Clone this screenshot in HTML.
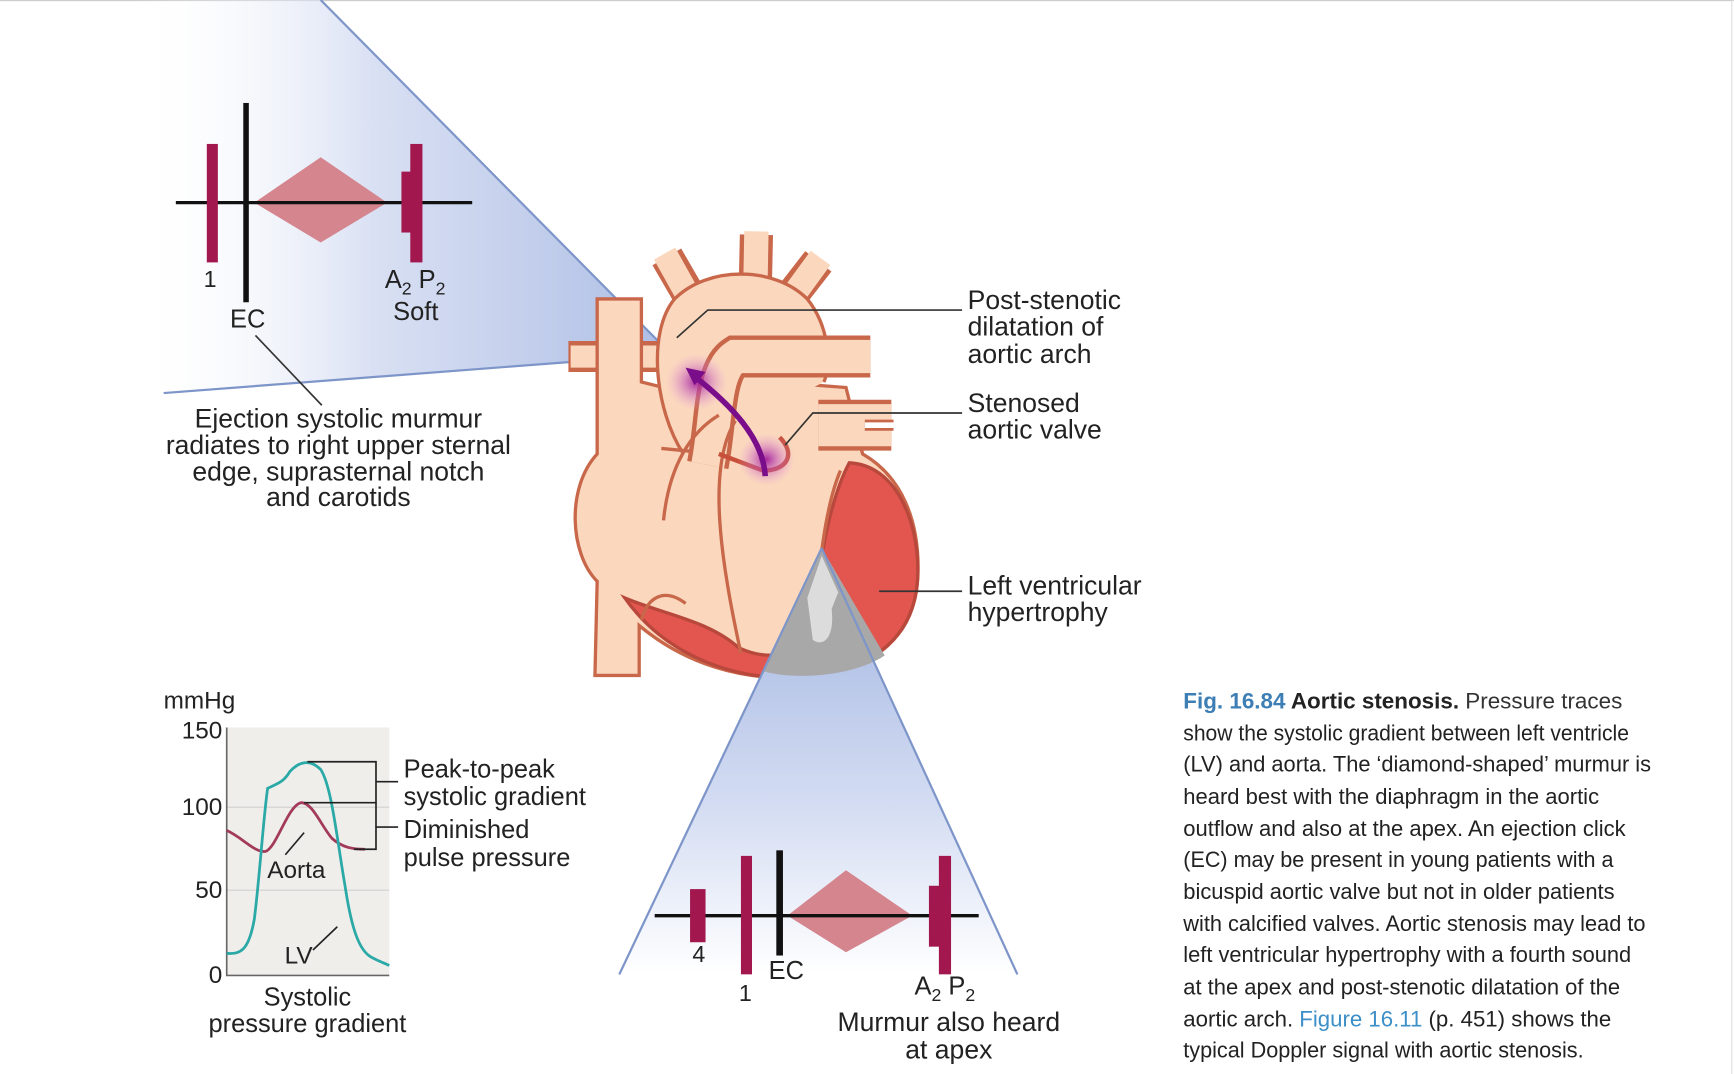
<!DOCTYPE html>
<html><head><meta charset="utf-8"><style>
html,body{margin:0;padding:0;background:#fff;}
svg{display:block;}
text{font-family:"Liberation Sans",sans-serif;fill:#222;}
</style></head><body>
<svg width="1734" height="1074" viewBox="0 0 1568 970" preserveAspectRatio="none" xmlns="http://www.w3.org/2000/svg">
<defs>
<linearGradient id="gTop" x1="607" y1="0" x2="120" y2="0" gradientUnits="userSpaceOnUse">
<stop offset="0" stop-color="#9fb2e0" stop-opacity="0.85"/><stop offset="0.55" stop-color="#cfd8f0" stop-opacity="0.8"/><stop offset="1" stop-color="#fff" stop-opacity="0"/></linearGradient>
<linearGradient id="gBot" x1="0" y1="495" x2="0" y2="880" gradientUnits="userSpaceOnUse">
<stop offset="0" stop-color="#9fb2e0"/><stop offset="0.6" stop-color="#d3dcf2"/><stop offset="1" stop-color="#fff"/></linearGradient>
<radialGradient id="glow"><stop offset="0" stop-color="#a0179a" stop-opacity="0.9"/><stop offset="1" stop-color="#e8a0e0" stop-opacity="0"/></radialGradient>
</defs>
<rect x="0" y="0" width="1568" height="970" fill="#fff"/>
<line x1="0" y1="0.5" x2="1568" y2="0.5" stroke="#ccc"/>
<line x1="1566" y1="0" x2="1566" y2="970" stroke="#ddd"/>

<!-- top cone -->
<polygon points="607,320 290,0 0,0 0,367 148,355" fill="url(#gTop)"/>
<line x1="607" y1="320" x2="290" y2="0" stroke="#7d95c8" stroke-width="2"/>
<line x1="607" y1="320" x2="148" y2="355" stroke="#7d95c8" stroke-width="2"/>

<!-- heart -->
<g stroke-linecap="butt" fill="none">
<path d="M514,322 L600,322" stroke="#c8674a" stroke-width="28"/>
<path d="M516,322 L600,322" stroke="#fbd8bd" stroke-width="20"/>
<path d="M625,270 L603,232 M683,260 L684,212 M712,272 L740,236" stroke="#c8674a" stroke-width="30"/>
<path d="M625,272 L601,229 M683,262 L684,209 M712,274 L742,233" stroke="#fbd8bd" stroke-width="22"/>
</g>
<!-- main body -->
<path d="M540,270 L580,270 L580,345 L640,360 L700,345 L765,350 L780,410 C815,430 832,470 830,520 C828,575 790,608 720,612 C670,614 620,600 578,565 L578,610 L538,610 L540,525 C515,500 512,440 540,410 Z" fill="#fbd8bd" stroke="#c8674a" stroke-width="3"/>
<!-- aortic arch -->
<path d="M618,410 C592,370 585,300 610,270 C640,240 700,240 730,270 C750,295 752,330 745,345" fill="#fbd8bd" stroke="#c8674a" stroke-width="3"/>
<path d="M598,405 L650,410" stroke="#c8674a" stroke-width="3"/>
<!-- red LV -->
<path d="M768,418 C810,420 830,470 830,515 C830,575 790,607 720,612 C660,614 600,590 565,540 C600,555 640,560 668,585 C700,600 730,590 735,555 C740,520 748,455 768,418 Z" fill="#e2564f" stroke="#b8483c" stroke-width="3"/>
<!-- pulmonary artery -->
<path d="M640,420 C648,380 645,335 665,322 L787,322" fill="none" stroke="#c8674a" stroke-width="38"/>
<path d="M640,420 C648,380 645,335 665,322 L787,322" fill="none" stroke="#fbd8bd" stroke-width="30"/>
<!-- pulm veins -->
<path d="M740,384 L806,384" stroke="#c8674a" stroke-width="46"/>
<path d="M740,384 L806,384" stroke="#fbd8bd" stroke-width="38"/>
<path d="M782,384 L808,384" stroke="#c8674a" stroke-width="10"/>
<path d="M782,384 L808,384" stroke="#fff" stroke-width="5"/>
<!-- septum curves -->
<path d="M600,470 C605,420 625,390 650,375 M620,545 C600,530 585,540 580,560 M665,380 C640,420 650,500 670,590 M760,425 C745,460 740,520 737,560" stroke="#c8674a" stroke-width="3" fill="none"/>
<path d="M705,395 C720,410 712,425 690,425 L650,410" stroke="#c8503a" stroke-width="4" fill="none"/>
<!-- glows & arrow -->
<ellipse cx="630" cy="345" rx="28" ry="26" fill="url(#glow)"/>
<ellipse cx="693" cy="415" rx="26" ry="24" fill="url(#glow)"/>
<path d="M692,430 C690,395 660,365 628,340" stroke="#7a0d8a" stroke-width="5" fill="none"/>
<polygon points="620,332 638,336 628,348" fill="#7a0d8a"/>
<!-- leaders -->
<polyline points="612,305 640,280 870,280" fill="none" stroke="#333" stroke-width="1.5"/>
<polyline points="710,402 735,373 870,373" fill="none" stroke="#333" stroke-width="1.5"/>
<line x1="795" y1="534" x2="870" y2="534" stroke="#333" stroke-width="1.5"/>

<!-- bottom cone -->
<polygon points="743,495 560,880 920,880" fill="url(#gBot)"/>
<path d="M743,495 L690,606 C715,614 770,612 800,592 Z" fill="#a8a8a8"/>
<path d="M743,502 L730,540 L735,578 C745,585 755,575 752,550 L758,535 Z" fill="#dcdcdc"/>
<line x1="743" y1="495" x2="560" y2="880" stroke="#7d95c8" stroke-width="2"/>
<line x1="743" y1="495" x2="920" y2="880" stroke="#7d95c8" stroke-width="2"/>

<!-- top phono -->
<polygon points="230,183 290,142 350,183 290,219" fill="#d4858e"/>
<line x1="159" y1="183" x2="427" y2="183" stroke="#111" stroke-width="3"/>
<rect x="187" y="130" width="10" height="107" fill="#a3174f"/>
<rect x="220" y="93" width="5" height="180" fill="#111"/>
<rect x="371" y="130" width="11" height="107" fill="#a3174f"/>
<rect x="363" y="155" width="10" height="55" fill="#a3174f"/>
<text x="190" y="259" font-size="21" text-anchor="middle">1</text>
<text x="224" y="296" font-size="23" text-anchor="middle">EC</text>
<text x="348" y="260" font-size="23">A<tspan font-size="16" dy="6">2</tspan><tspan dy="-6"> P</tspan><tspan font-size="16" dy="6">2</tspan></text>
<text x="376" y="289" font-size="23" text-anchor="middle">Soft</text>
<line x1="231" y1="303" x2="291" y2="366" stroke="#333" stroke-width="1.5"/>
<g font-size="24" text-anchor="middle">
<text x="306" y="386">Ejection systolic murmur</text>
<text x="306" y="410">radiates to right upper sternal</text>
<text x="306" y="434">edge, suprasternal notch</text>
<text x="306" y="457">and carotids</text>
</g>

<!-- right labels -->
<g font-size="24">
<text x="875" y="279">Post-stenotic</text>
<text x="875" y="303">dilatation of</text>
<text x="875" y="328">aortic arch</text>
<text x="875" y="372">Stenosed</text>
<text x="875" y="396">aortic valve</text>
<text x="875" y="537">Left ventricular</text>
<text x="875" y="561">hypertrophy</text>
</g>

<!-- bottom phono -->
<polygon points="712,827 765,786 825,827 765,860" fill="#d4858e"/>
<line x1="592" y1="827" x2="885" y2="827" stroke="#111" stroke-width="3"/>
<rect x="624" y="803" width="14" height="48" fill="#a3174f"/>
<rect x="670" y="773" width="10" height="107" fill="#a3174f"/>
<rect x="702" y="768" width="6" height="95" fill="#111"/>
<rect x="849" y="773" width="11" height="107" fill="#a3174f"/>
<rect x="840" y="800" width="12" height="55" fill="#a3174f"/>
<text x="632" y="869" font-size="21" text-anchor="middle">4</text>
<text x="674" y="904" font-size="21" text-anchor="middle">1</text>
<text x="711" y="884" font-size="23" text-anchor="middle">EC</text>
<text x="827" y="898" font-size="23">A<tspan font-size="16" dy="6">2</tspan><tspan dy="-6"> P</tspan><tspan font-size="16" dy="6">2</tspan></text>
<text x="858" y="931" font-size="24" text-anchor="middle">Murmur also heard</text>
<text x="858" y="956" font-size="24" text-anchor="middle">at apex</text>

<!-- graph -->
<rect x="205" y="657" width="147" height="223" fill="#efeeeb"/>
<line x1="205" y1="729" x2="352" y2="729" stroke="#d0d0d0"/>
<line x1="205" y1="804" x2="352" y2="804" stroke="#d0d0d0"/>
<polyline points="205,657 205,881 352,881" fill="none" stroke="#666" stroke-width="1.5"/>
<text x="148" y="640" font-size="22">mmHg</text>
<g font-size="22" text-anchor="end">
<text x="201" y="667">150</text><text x="201" y="736">100</text><text x="201" y="811">50</text><text x="201" y="888">0</text>
</g>
<path d="M205,750 C220,757 230,770 240,769 C250,766 260,728 272,725 C282,724 290,745 300,757 C310,766 320,767 330,767" fill="none" stroke="#a33a5a" stroke-width="2.5"/>
<path d="M205,861 C218,862 225,858 230,830 C235,790 238,740 242,712 C250,708 256,707 262,697 C270,688 280,685 290,695 C300,710 305,760 312,800 C318,840 325,858 335,864 C342,868 348,870 352,872" fill="none" stroke="#2aa9a6" stroke-width="2.5"/>
<g stroke="#222" stroke-width="1.5" fill="none">
<polyline points="278,688 340,688 340,725 275,725"/>
<polyline points="360,706 340,706"/>
<polyline points="320,767 340,767 340,747 360,747"/>
<line x1="340" y1="725" x2="340" y2="747"/>
<line x1="258" y1="772" x2="275" y2="752"/>
<line x1="283" y1="858" x2="305" y2="837"/>
</g>
<g font-size="23">
<text x="365" y="702">Peak-to-peak</text>
<text x="365" y="727">systolic gradient</text>
<text x="365" y="757">Diminished</text>
<text x="365" y="782">pulse pressure</text>
</g>
<text x="268" y="793" font-size="22" text-anchor="middle">Aorta</text>
<text x="270" y="870" font-size="22" text-anchor="middle">LV</text>
<text x="278" y="908" font-size="23" text-anchor="middle">Systolic</text>
<text x="278" y="932" font-size="23" text-anchor="middle">pressure gradient</text>

<!-- caption -->
<g font-size="20" fill="#333">
<text x="1070" y="640" textLength="397" lengthAdjust="spacingAndGlyphs"><tspan fill="#3d7fb5" font-weight="bold">Fig. 16.84</tspan><tspan font-weight="bold" fill="#222"> Aortic stenosis.</tspan><tspan fill="#333"> Pressure traces</tspan></text>
<text x="1070" y="669" textLength="403" lengthAdjust="spacingAndGlyphs" fill="#333">show the systolic gradient between left ventricle</text>
<text x="1070" y="697" textLength="423" lengthAdjust="spacingAndGlyphs" fill="#333">(LV) and aorta. The ‘diamond-shaped’ murmur is</text>
<text x="1070" y="726" textLength="376" lengthAdjust="spacingAndGlyphs" fill="#333">heard best with the diaphragm in the aortic</text>
<text x="1070" y="755" textLength="400" lengthAdjust="spacingAndGlyphs" fill="#333">outflow and also at the apex. An ejection click</text>
<text x="1070" y="783" textLength="389" lengthAdjust="spacingAndGlyphs" fill="#333">(EC) may be present in young patients with a</text>
<text x="1070" y="812" textLength="390" lengthAdjust="spacingAndGlyphs" fill="#333">bicuspid aortic valve but not in older patients</text>
<text x="1070" y="841" textLength="418" lengthAdjust="spacingAndGlyphs" fill="#333">with calcified valves. Aortic stenosis may lead to</text>
<text x="1070" y="869" textLength="405" lengthAdjust="spacingAndGlyphs" fill="#333">left ventricular hypertrophy with a fourth sound</text>
<text x="1070" y="898" textLength="395" lengthAdjust="spacingAndGlyphs" fill="#333">at the apex and post-stenotic dilatation of the</text>
<text x="1070" y="927" textLength="387" lengthAdjust="spacingAndGlyphs" fill="#333">aortic arch. <tspan fill="#3d8fc8">Figure 16.11</tspan> (p. 451) shows the</text>
<text x="1070" y="955" textLength="362" lengthAdjust="spacingAndGlyphs" fill="#333">typical Doppler signal with aortic stenosis.</text>
</g>
</svg>
</body></html>
